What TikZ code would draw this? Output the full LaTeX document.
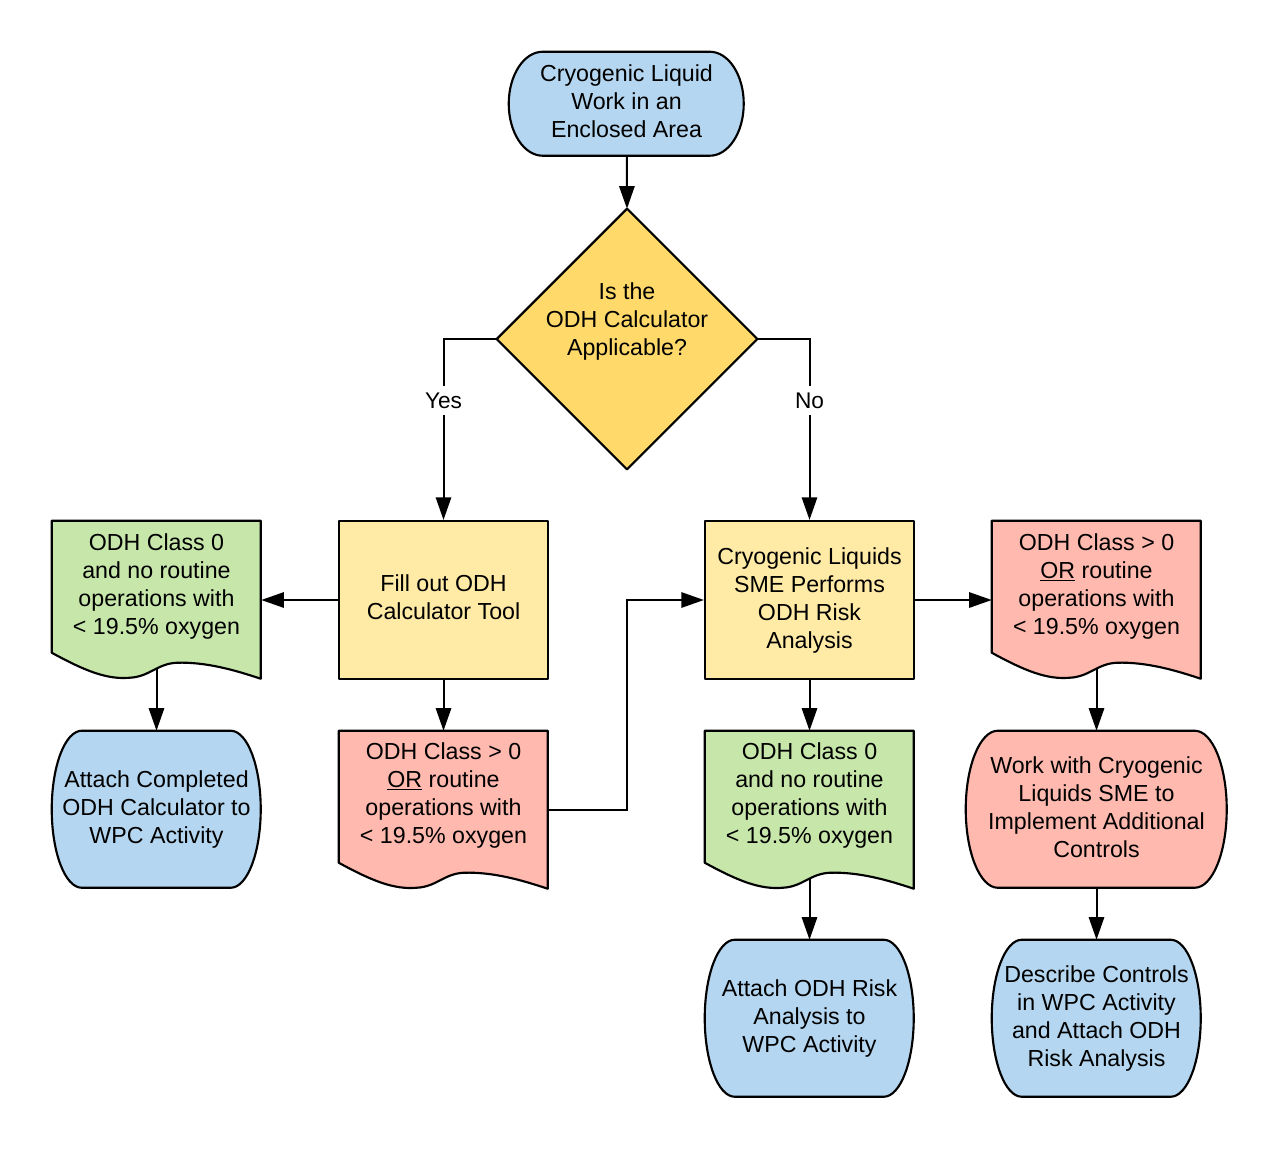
\documentclass[tikz,border=0pt]{standalone}
\usepackage{fontspec}
\setmainfont{Liberation Sans}
\usetikzlibrary{arrows.meta,calc}
\pgfdeclarelayer{bg}\pgfdeclarelayer{conn}\pgfdeclarelayer{shapes}
\pgfsetlayers{bg,conn,shapes,main}
\definecolor{cblue}{RGB}{180,214,240}
\definecolor{cgreen}{RGB}{199,231,170}
\definecolor{cred}{RGB}{255,185,174}
\definecolor{cyel}{RGB}{255,234,166}
\definecolor{cgold}{RGB}{255,218,106}
\tikzset{
  shapeline/.style={draw=black, line width=1.6pt, line join=round},
  frame/.style={rectangle, inner sep=0pt, minimum width=156.75pt, minimum height=118.5pt},
  txt/.style={align=center, font=\fontsize{17.4pt}{21pt}\selectfont, inner sep=0pt, text=black},
  arr/.style={line width=1.5pt, -{Triangle[length=17pt,width=11.5pt]}},
  lbl/.style={fill=white, font=\fontsize{17pt}{20pt}\selectfont, inner xsep=2pt, inner ysep=5pt}
}
% terminator: node, fill, width, height, rx (all in px units)
\newcommand\termshape[5]{%
  \begin{scope}[shift={(#1.north west)}]
    \draw[shapeline,fill=#2] (#5,0) -- ({#3-#5},0)
      .. controls ({#3-#5+0.5523*#5},0) and (#3,{#4/2-0.5523*#4/2}) .. (#3,{#4/2})
      .. controls (#3,{#4/2+0.5523*#4/2}) and ({#3-#5+0.5523*#5},#4) .. ({#3-#5},#4)
      -- (#5,#4)
      .. controls ({#5-0.5523*#5},#4) and (0,{#4/2+0.5523*#4/2}) .. (0,{#4/2})
      .. controls (0,{#4/2-0.5523*#4/2}) and ({#5-0.5523*#5},0) .. (#5,0) -- cycle;
  \end{scope}}
% document: node, fill
\newcommand\docshape[2]{%
  \begin{scope}[shift={(#1.north west)}]
    \draw[shapeline,fill=#2] (0,0) -- (209,0) -- (209,158)
      .. controls (185,150) and (155,141) .. (125,142)
      .. controls (105,143) and (98,156) .. (78,157)
      .. controls (55,159) and (33,150) .. (0,132) -- cycle;
  \end{scope}}
\begin{document}
\begin{tikzpicture}[x=0.75pt,y=-0.75pt]
\useasboundingbox (0,0) rectangle (1280,1149);
\begin{pgfonlayer}{bg}
  \fill[white] (0,0) rectangle (1280,1149);
\end{pgfonlayer}

% ---------- nodes ----------
\node[frame, minimum width=176.25pt, minimum height=78pt] (start) at (626.5,104) {};
\node[txt] (startt) at (626.5,101) {Cryogenic Liquid\\Work in an\\Enclosed Area};
\node[frame, minimum width=195pt, minimum height=195pt] (dia) at (627,339) {};
\node[txt] (diat) at (627,321.5) {Is the\\ODH Calculator\\Applicable?};

\node[frame, shapeline, fill=cyel] (fill) at (443.5,600) {};
\node[txt] (fillt) at (443.5,597) {Fill out ODH\\Calculator Tool};
\node[frame, txt, shapeline, fill=cyel] (sme) at (809.5,600)
  {Cryogenic Liquids\\SME Performs\\ODH Risk\\Analysis};

\node[frame] (g1) at (156.5,600) {};
\node[txt] (g1t) at (156.5,586.5) {ODH Class 0\\and no routine\\operations with\\< 19.5\% oxygen};
\node[frame] (r2) at (1096.5,600) {};
\node[txt] (r2t) at (1096.5,586.5) {ODH Class > 0\\\underline{OR} routine\\operations with\\< 19.5\% oxygen};

\node[frame] (r1) at (443.5,810) {};
\node[txt] (r1t) at (443.5,795.5) {ODH Class > 0\\\underline{OR} routine\\operations with\\< 19.5\% oxygen};
\node[frame] (g2) at (809.5,810) {};
\node[txt] (g2t) at (809.5,795.5) {ODH Class 0\\and no routine\\operations with\\< 19.5\% oxygen};

\node[frame, txt, minimum height=117.75pt] (t1) at (156.5,809.5)
  {Attach Completed\\ODH Calculator to\\WPC Activity};
\node[frame, minimum width=195.75pt, minimum height=117.75pt] (tr) at (1096.5,809.5) {};
\node[txt] (trt) at (1096.5,807) {Work with Cryogenic\\Liquids SME to\\Implement Additional\\Controls};
\node[frame, txt, minimum height=117.75pt] (t2) at (809.5,1018.5)
  {Attach ODH Risk\\Analysis to\\WPC Activity};
\node[frame, txt, minimum height=117.75pt] (t3) at (1096.5,1018.5)
  {Describe Controls\\in WPC Activity\\and Attach ODH\\Risk Analysis};

% ---------- shapes ----------
\begin{pgfonlayer}{shapes}
  \termshape{start}{cblue}{235}{104}{34}
  \draw[shapeline, fill=cgold] (dia.north) -- (dia.east) -- (dia.south) -- (dia.west) -- cycle;
  \docshape{g1}{cgreen}
  \docshape{r2}{cred}
  \docshape{r1}{cred}
  \docshape{g2}{cgreen}
  \termshape{t1}{cblue}{209}{157}{30}
  \termshape{tr}{cred}{261}{157}{32}
  \termshape{t2}{cblue}{209}{157}{30}
  \termshape{t3}{cblue}{209}{157}{30}
\end{pgfonlayer}

% ---------- connectors ----------
\begin{pgfonlayer}{conn}
  \draw[arr] (start) -- (dia.north);
  \draw[arr] (dia.west) -| node[lbl, pos=0.67] {Yes} (fill.north);
  \draw[arr] (dia.east) -| node[lbl, pos=0.67] {No} (sme.north);
  \draw[arr] (fill.west) -- (g1.east);
  \draw[arr] (sme.east) -- (r2.west);
  \draw[arr] (fill) -- (r1);
  \draw[arr] (sme) -- (g2);
  \draw[arr] (r1.east) -- (r1.east -| dia.center) |- (sme.west);
  \draw[arr] (g1.center) -- (t1);
  \draw[arr] (r2.center) -- (tr);
  \draw[arr] (g2.center) -- (t2);
  \draw[arr] (tr) -- (t3);
\end{pgfonlayer}
\end{tikzpicture}
\end{document}
